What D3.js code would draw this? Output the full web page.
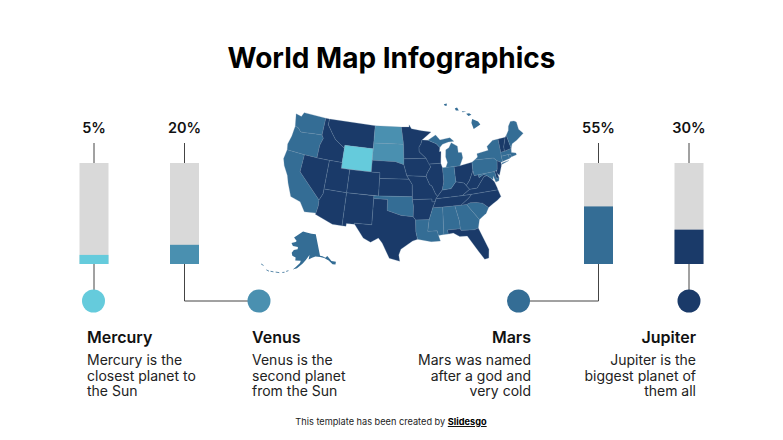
<!DOCTYPE html>
<html>
<head>
<meta charset="utf-8">
<script src="https://cdn.jsdelivr.net/npm/d3@7"></script>
<style>
  html, body { margin: 0; background: #fff; }
  svg { display: block; }
  text { font-family: Inter, sans-serif; fill: #111; }
</style>
</head>
<body>
<div id="chart"></div>
<script>
var planets = ['Mercury', 'Venus', 'Mars', 'Jupiter'];
var percentLabels = ['5%', '20%', '55%', '30%'];
var barFill = [9, 19, 57, 34]; // bar heights as drawn, they don't follow the labels exactly
var planetColors = ['#65cbdc', '#4a90b0', '#346d95', '#1a3a69'];
var descriptions = [
  ['Mercury is the', 'closest planet to', 'the Sun'],
  ['Venus is the', 'second planet', 'from the Sun'],
  ['Mars was named', 'after a god and', 'very cold'],
  ['Jupiter is the', 'biggest planet of', 'them all']
];

// states by colour group
var midStates = ['WA', 'OR', 'CA', 'OK', 'LA', 'MS', 'AL', 'GA', 'SC', 'IN', 'MIL', 'MIU', 'NY', 'LI', 'PA', 'CT', 'RI', 'MA', 'ME', 'MD'];
var lightStates = ['ND', 'SD'];
var cyanStates = ['WY'];

// rough state outlines, lon/lat
var stateOutlines = {
  WA: [[-124.7,48.4],[-123.2,48.2],[-122.8,49],[-117,49],[-117,46],[-119,45.9],[-121.2,45.7],[-122.3,45.6],[-123.2,46.2],[-124,46.3]],
  OR: [[-124,46.3],[-123.2,46.2],[-122.3,45.6],[-121.2,45.7],[-119,45.9],[-117,46],[-116.5,45.5],[-117,44.2],[-117,42],[-120,42],[-124.2,42],[-124.5,43],[-124.1,44.5]],
  CA: [[-124.2,42],[-120,42],[-120,39],[-114.6,35],[-114.5,34],[-114.7,32.7],[-117.1,32.5],[-118.4,34],[-120.6,34.5],[-121.9,36.6],[-122.5,37.8],[-123.8,39.3],[-124.4,40.4]],
  NV: [[-120,42],[-117,42],[-114,42],[-114,37],[-114,36.2],[-114.6,35],[-120,39]],
  ID: [[-117,49],[-116,49],[-116,48],[-114.5,46.6],[-113.5,45.7],[-111,44.5],[-111,42],[-114,42],[-117,42],[-117,44.2],[-116.5,45.5],[-117,46]],
  MT: [[-116,49],[-104,49],[-104,46],[-104,45],[-111,45],[-111,44.5],[-113.5,45.7],[-114.5,46.6],[-116,48]],
  WY: [[-111,45],[-104,45],[-104,43],[-104,41],[-111,41]],
  UT: [[-114,42],[-111,42],[-111,41],[-109,41],[-109,37],[-114,37]],
  CO: [[-109,41],[-104,41],[-102,41],[-102,37],[-109,37]],
  AZ: [[-114,37],[-109,37],[-109,31.3],[-111,31.3],[-114.8,32.5],[-114.7,32.7],[-114.5,34],[-114.6,35],[-114,36.2]],
  NM: [[-109,37],[-103,37],[-103,32],[-106.6,32],[-106.5,31.8],[-108.2,31.8],[-108.2,31.3],[-109,31.3]],
  ND: [[-104,49],[-97.2,49],[-96.6,46],[-104,46]],
  SD: [[-104,46],[-96.6,46],[-96.5,43.5],[-96.5,42.5],[-98.5,43],[-104,43]],
  NE: [[-104,43],[-98.5,43],[-96.5,42.5],[-95.8,40.6],[-95.3,40],[-102,40],[-102,41],[-104,41]],
  KS: [[-102,40],[-95.3,40],[-94.6,39.1],[-94.6,37],[-102,37]],
  OK: [[-103,37],[-102,37],[-94.6,37],[-94.6,36.5],[-94.4,35.4],[-94.5,33.6],[-97,33.8],[-100,34.6],[-100,36.5],[-103,36.5]],
  TX: [[-106.6,32],[-103,32],[-103,36.5],[-100,36.5],[-100,34.6],[-97,33.8],[-94.5,33.6],[-94,33],[-94,31],[-93.7,29.7],[-94.7,29.4],[-97,28],[-97.4,27],[-97.2,25.9],[-99.2,26.4],[-100.7,29],[-101.5,29.8],[-103,29],[-104.5,29.6],[-106.5,31.8]],
  MN: [[-97.2,49],[-95.2,49],[-95.2,49.4],[-94.6,48.7],[-92,48.3],[-89.6,48],[-92,46.7],[-92.3,46],[-92.8,45.5],[-92.8,44.7],[-91.2,43.5],[-96.5,43.5],[-96.6,46]],
  IA: [[-96.5,43.5],[-91.2,43.5],[-90.2,42],[-91.1,41],[-91.4,40.4],[-95.8,40.6],[-96.5,42.5]],
  MO: [[-95.8,40.6],[-91.4,40.4],[-90.7,39],[-90.2,38.7],[-89.5,37.3],[-89.1,36.9],[-89.5,36.5],[-89.7,36],[-90.4,36],[-90.4,36.5],[-94.6,36.5],[-94.6,37],[-94.6,39.1],[-95.3,40]],
  AR: [[-94.6,36.5],[-90.4,36.5],[-90.4,36],[-89.7,36],[-90.3,35],[-91.2,33],[-94,33],[-94.5,33.6],[-94.4,35.4]],
  LA: [[-94,33],[-91.2,33],[-91.6,31],[-89.7,31],[-89.5,30.2],[-89.2,29.2],[-91,29.2],[-93.7,29.7],[-94,31]],
  MS: [[-90.3,35],[-88.2,35],[-88.4,30.3],[-89.5,30.2],[-89.7,31],[-91.6,31],[-91.2,33]],
  AL: [[-88.2,35],[-85.6,35],[-85,32.3],[-85,31],[-87.6,31],[-87.5,30.3],[-88.4,30.3]],
  GA: [[-85.6,35],[-84.3,35],[-83.1,35],[-80.9,32.1],[-81.4,30.7],[-82.2,30.5],[-84.9,30.7],[-85,31],[-85,32.3]],
  FL: [[-87.6,31],[-85,31],[-84.9,30.7],[-82.2,30.5],[-81.4,30.7],[-80,26.8],[-80.3,25.3],[-81.1,25.2],[-82,26.7],[-82.8,28],[-83.8,29.6],[-85.3,29.7],[-86.5,30.4],[-87.5,30.3]],
  SC: [[-83.1,35],[-82.3,35.2],[-81,35.1],[-79.7,34.8],[-78.6,33.9],[-79.3,33],[-80.9,32.1]],
  NC: [[-84.3,35],[-83.1,35],[-82.3,35.2],[-81,35.1],[-79.7,34.8],[-78.6,33.9],[-77.5,34.4],[-76.5,34.8],[-75.6,35.3],[-75.9,36.55],[-81.7,36.6],[-82.5,36]],
  TN: [[-90.3,35],[-89.7,36],[-89.5,36.5],[-83.7,36.6],[-81.7,36.6],[-82.5,36],[-84.3,35],[-85.6,35],[-88.2,35]],
  KY: [[-89.5,36.5],[-89.1,36.9],[-88,37.9],[-86,38],[-84.8,39.1],[-83,38.7],[-82.6,38.2],[-81.97,37.5],[-83.7,36.6]],
  VA: [[-83.7,36.6],[-81.97,37.5],[-80.3,37.5],[-79.3,38.4],[-78.4,39.2],[-77.7,39.3],[-77,38.8],[-76.3,38],[-76,37],[-75.9,36.55],[-81.7,36.6]],
  WV: [[-81.97,37.5],[-82.6,38.2],[-81.7,39],[-80.6,40.6],[-80.5,39.7],[-79.5,39.7],[-79.5,39.2],[-78.4,39.6],[-77.7,39.3],[-78.4,39.2],[-79.3,38.4],[-80.3,37.5]],
  OH: [[-84.8,39.1],[-83,38.7],[-82.6,38.2],[-81.7,39],[-80.6,40.6],[-80.5,42],[-83.4,41.7],[-84.8,41.7]],
  IN: [[-87.5,41.7],[-84.8,41.7],[-84.8,39.1],[-86,38],[-88,37.9],[-87.5,39.3]],
  IL: [[-90.6,42.5],[-87.8,42.5],[-87.5,41.7],[-87.5,39.3],[-88,37.9],[-89.1,36.9],[-89.5,37.3],[-90.2,38.7],[-90.7,39],[-91.4,40.4],[-91.1,41],[-90.2,42]],
  WI: [[-92,46.7],[-90.5,46.6],[-88.5,45.9],[-87.7,45.2],[-87.9,44.5],[-87.5,44.5],[-87.8,42.5],[-90.6,42.5],[-91.2,43.5],[-92.8,44.7],[-92.8,45.5],[-92.3,46]],
  MIL: [[-86.7,41.7],[-84.8,41.7],[-83.4,41.7],[-82.5,43],[-82.6,43.9],[-83.4,44],[-83.4,45.1],[-84.8,45.8],[-85.5,45],[-86.3,44.7],[-86.5,43.5],[-86.2,42.5]],
  MIU: [[-90.5,46.6],[-88.5,47.4],[-87.5,46.5],[-85,46.7],[-84.1,46],[-85.5,46],[-87,45.7],[-87.7,45.2],[-88.5,45.9]],
  NY: [[-79.8,42.3],[-75.4,42],[-74.7,41.4],[-73.9,41],[-73.5,41.1],[-73.5,42],[-73.4,42.7],[-73.3,45],[-74.7,45],[-76.3,44.2],[-76.2,43.5],[-79,43.3],[-79,42.7]],
  LI: [[-74,40.6],[-72,41],[-73.6,40.9]],
  PA: [[-80.5,42],[-79.8,42.3],[-75.4,42],[-74.7,41.4],[-75.1,40],[-75.4,39.8],[-75.8,39.7],[-79.5,39.7],[-80.5,39.7],[-80.6,40.6]],
  NJ: [[-75.1,40],[-74.7,41.4],[-73.9,41],[-74,40.4],[-74.9,38.9],[-75.5,39.5]],
  DE: [[-75.8,39.7],[-75.4,39.8],[-75.1,38.5],[-75.7,38.5]],
  MD: [[-79.5,39.7],[-75.8,39.7],[-75.7,38.5],[-75.1,38.5],[-75.3,38],[-76,37.9],[-76.3,39],[-76.5,38.4],[-77,38.8],[-77.7,39.3],[-78.4,39.6],[-79.5,39.2]],
  CT: [[-73.5,42],[-71.8,42],[-71.8,41.3],[-73.5,41.1]],
  RI: [[-71.8,42],[-71.3,42],[-71.2,41.5],[-71.8,41.3]],
  MA: [[-73.4,42.7],[-72.5,42.7],[-70.8,42.9],[-71,42.2],[-70,41.9],[-70,41.6],[-71.2,41.5],[-71.3,42],[-73.5,42]],
  VT: [[-73.3,45],[-71.5,45],[-72.4,43.5],[-72.5,42.7],[-73.4,42.7]],
  NH: [[-72.5,42.7],[-70.8,42.9],[-71,44.5],[-71.1,45.3],[-71.5,45],[-72.4,43.5]],
  ME: [[-71.1,45.3],[-70.3,46],[-70,46.7],[-69.2,47.4],[-68.3,47.3],[-67.8,47],[-67.8,45.7],[-67,44.8],[-69,44],[-70.3,43.6],[-70.8,42.9],[-71,44.5]]
};

var alaskaOutline = [[-141,69.6],[-141,60.3],[-139,59.9],[-137,59],[-135,59.5],[-133,57],[-130,56],[-131,55],[-133,55.5],[-135,57.5],[-138,59],[-141,59.8],[-145,60.3],[-148,60],[-151,59.3],[-150,61.2],[-153.5,59],[-156,57.5],[-160,55.5],[-163,54.8],[-161,56],[-158,57.8],[-157.5,58.8],[-162,58.7],[-162,60],[-165,60.5],[-166,61.7],[-164.5,63],[-161,63.5],[-161,64.5],[-166,64.6],[-168,65.7],[-164,66.5],[-163,67],[-166.5,68.3],[-163,69.5],[-156.5,71.3],[-152,70.8],[-146,70.2]];
var aleutians = [[[-166,54],[-167.5,53.5]],[[-168.5,53],[-170,52.7]],[[-172,52.3],[-174.5,52.1]],[[-176,51.9],[-178,51.7]],[[-179,51.5],[-181,51.6]],[[-184,52.8],[-186,52.9]]];
var hawaiiIslands = [
  [[-155.9,20.2],[-155.1,19.9],[-154.8,19.5],[-155.7,18.95],[-156,19.7]],
  [[-156.7,20.9],[-156.3,20.95],[-156,20.75],[-156.4,20.6]],
  [[-158.25,21.55],[-157.95,21.7],[-157.7,21.3],[-158.1,21.3]],
  [[-159.75,22.1],[-159.35,22.2],[-159.35,21.9],[-159.6,21.9]],
  [[-157.3,21.2],[-156.7,21.15],[-157.2,21.08]]
];

var width = 783, height = 440;
var svg = d3.select('#chart').append('svg').attr('width', width).attr('height', height);

// layout
var barX = d3.scaleOrdinal().domain(planets).range([94, 184.5, 598.5, 689]);
var dotX = d3.scaleOrdinal().domain(planets).range([93.5, 259, 518.5, 689]);
var textX = d3.scaleOrdinal().domain(planets).range([87, 252, 531, 696]);
var barY = d3.scaleLinear().domain([0, 100]).range([264, 163]);
var barW = 29, dotY = 301;

svg.append('text').attr('x', 391.5).attr('y', 68).attr('text-anchor', 'middle')
  .style('font-size', '28px').style('font-weight', 700).style('fill', '#000')
  .text('World Map Infographics');

// map
var mainProj = d3.geoConicEqualArea().parallels([29.5, 45.5]).rotate([96, 0]).center([0, 38]).scale(332).translate([406, 191]);
var alaskaProj = d3.geoConicEqualArea().parallels([55, 65]).rotate([154, 0]).center([0, 60]).scale(135).translate([305, 258]);
var hawaiiProj = d3.geoConicEqualArea().parallels([8, 18]).rotate([157, 0]).center([0, 20.6]).scale(450).translate([464, 116]);

var pathFor = function(proj) {
  var line = d3.line().curve(d3.curveLinearClosed);
  return function(pts) { return line(pts.map(function(p) { return proj(p); })); };
};
var stateColor = function(code) {
  if (cyanStates.indexOf(code) >= 0) return planetColors[0];
  if (lightStates.indexOf(code) >= 0) return planetColors[1];
  if (midStates.indexOf(code) >= 0) return planetColors[2];
  return planetColors[3];
};

var map = svg.append('g');
map.selectAll('path.state').data(Object.keys(stateOutlines)).enter().append('path')
  .attr('class', 'state')
  .attr('d', function(d) { return pathFor(mainProj)(stateOutlines[d]); })
  .attr('fill', stateColor)
  .attr('stroke', '#6d8cab').attr('stroke-width', 0.25).attr('stroke-linejoin', 'round');
map.append('path').attr('d', pathFor(alaskaProj)(alaskaOutline)).attr('fill', planetColors[2]);
map.selectAll('path.aleut').data(aleutians).enter().append('path')
  .attr('class', 'aleut')
  .attr('d', function(d) { return d3.line()(d.map(function(p) { return alaskaProj(p); })); })
  .attr('stroke', planetColors[2]).attr('stroke-width', 0.8).attr('fill', 'none');
map.selectAll('path.hawaii').data(hawaiiIslands).enter().append('path')
  .attr('class', 'hawaii')
  .attr('d', pathFor(hawaiiProj))
  .attr('fill', planetColors[2]);

// bars, connectors, dots
var group = svg.selectAll('g.planet').data(planets).enter().append('g').attr('class', 'planet');

group.append('path')
  .attr('d', function(d) {
    var x = barX(d);
    return 'M' + x + ',143V163M' + x + ',' + barY(0) + 'V' + dotY + 'H' + dotX(d);
  })
  .attr('fill', 'none').attr('stroke', '#444').attr('stroke-width', 1);

group.append('rect')
  .attr('x', function(d) { return barX(d) - barW / 2; })
  .attr('y', barY(100)).attr('width', barW).attr('height', barY(0) - barY(100))
  .attr('fill', '#d9d9d9');

group.append('rect')
  .attr('x', function(d) { return barX(d) - barW / 2; })
  .attr('y', function(d, i) { return barY(barFill[i]); })
  .attr('width', barW)
  .attr('height', function(d, i) { return barY(0) - barY(barFill[i]); })
  .attr('fill', function(d, i) { return planetColors[i]; });

group.append('circle')
  .attr('cx', function(d) { return dotX(d); }).attr('cy', dotY).attr('r', 11.5)
  .attr('fill', function(d, i) { return planetColors[i]; });

group.append('text')
  .attr('x', function(d) { return barX(d); }).attr('y', 133).attr('text-anchor', 'middle')
  .style('font-size', '14.5px').style('font-weight', 600)
  .text(function(d, i) { return percentLabels[i]; });

var anchor = function(d, i) { return i < 2 ? 'start' : 'end'; };

group.append('text')
  .attr('x', function(d) { return textX(d); }).attr('y', 343).attr('text-anchor', anchor)
  .style('font-size', '16px').style('font-weight', 600)
  .text(function(d) { return d; });

group.each(function(d, i) {
  d3.select(this).selectAll('text.desc').data(descriptions[i]).enter().append('text')
    .attr('class', 'desc')
    .attr('x', textX(d)).attr('y', function(l, j) { return 365 + j * 15.6; })
    .attr('text-anchor', anchor(d, i))
    .style('font-size', '14px').style('fill', '#222')
    .text(function(l) { return l; });
});

// footer
var footer = svg.append('text').attr('x', 391).attr('y', 425).attr('text-anchor', 'middle')
  .style('font-size', '9.2px').style('fill', '#222');
footer.append('tspan').text('This template has been created by ');
footer.append('tspan').style('font-weight', 700).style('text-decoration', 'underline').style('fill', '#000').text('Slidesgo');
</script>
</body>
</html>
